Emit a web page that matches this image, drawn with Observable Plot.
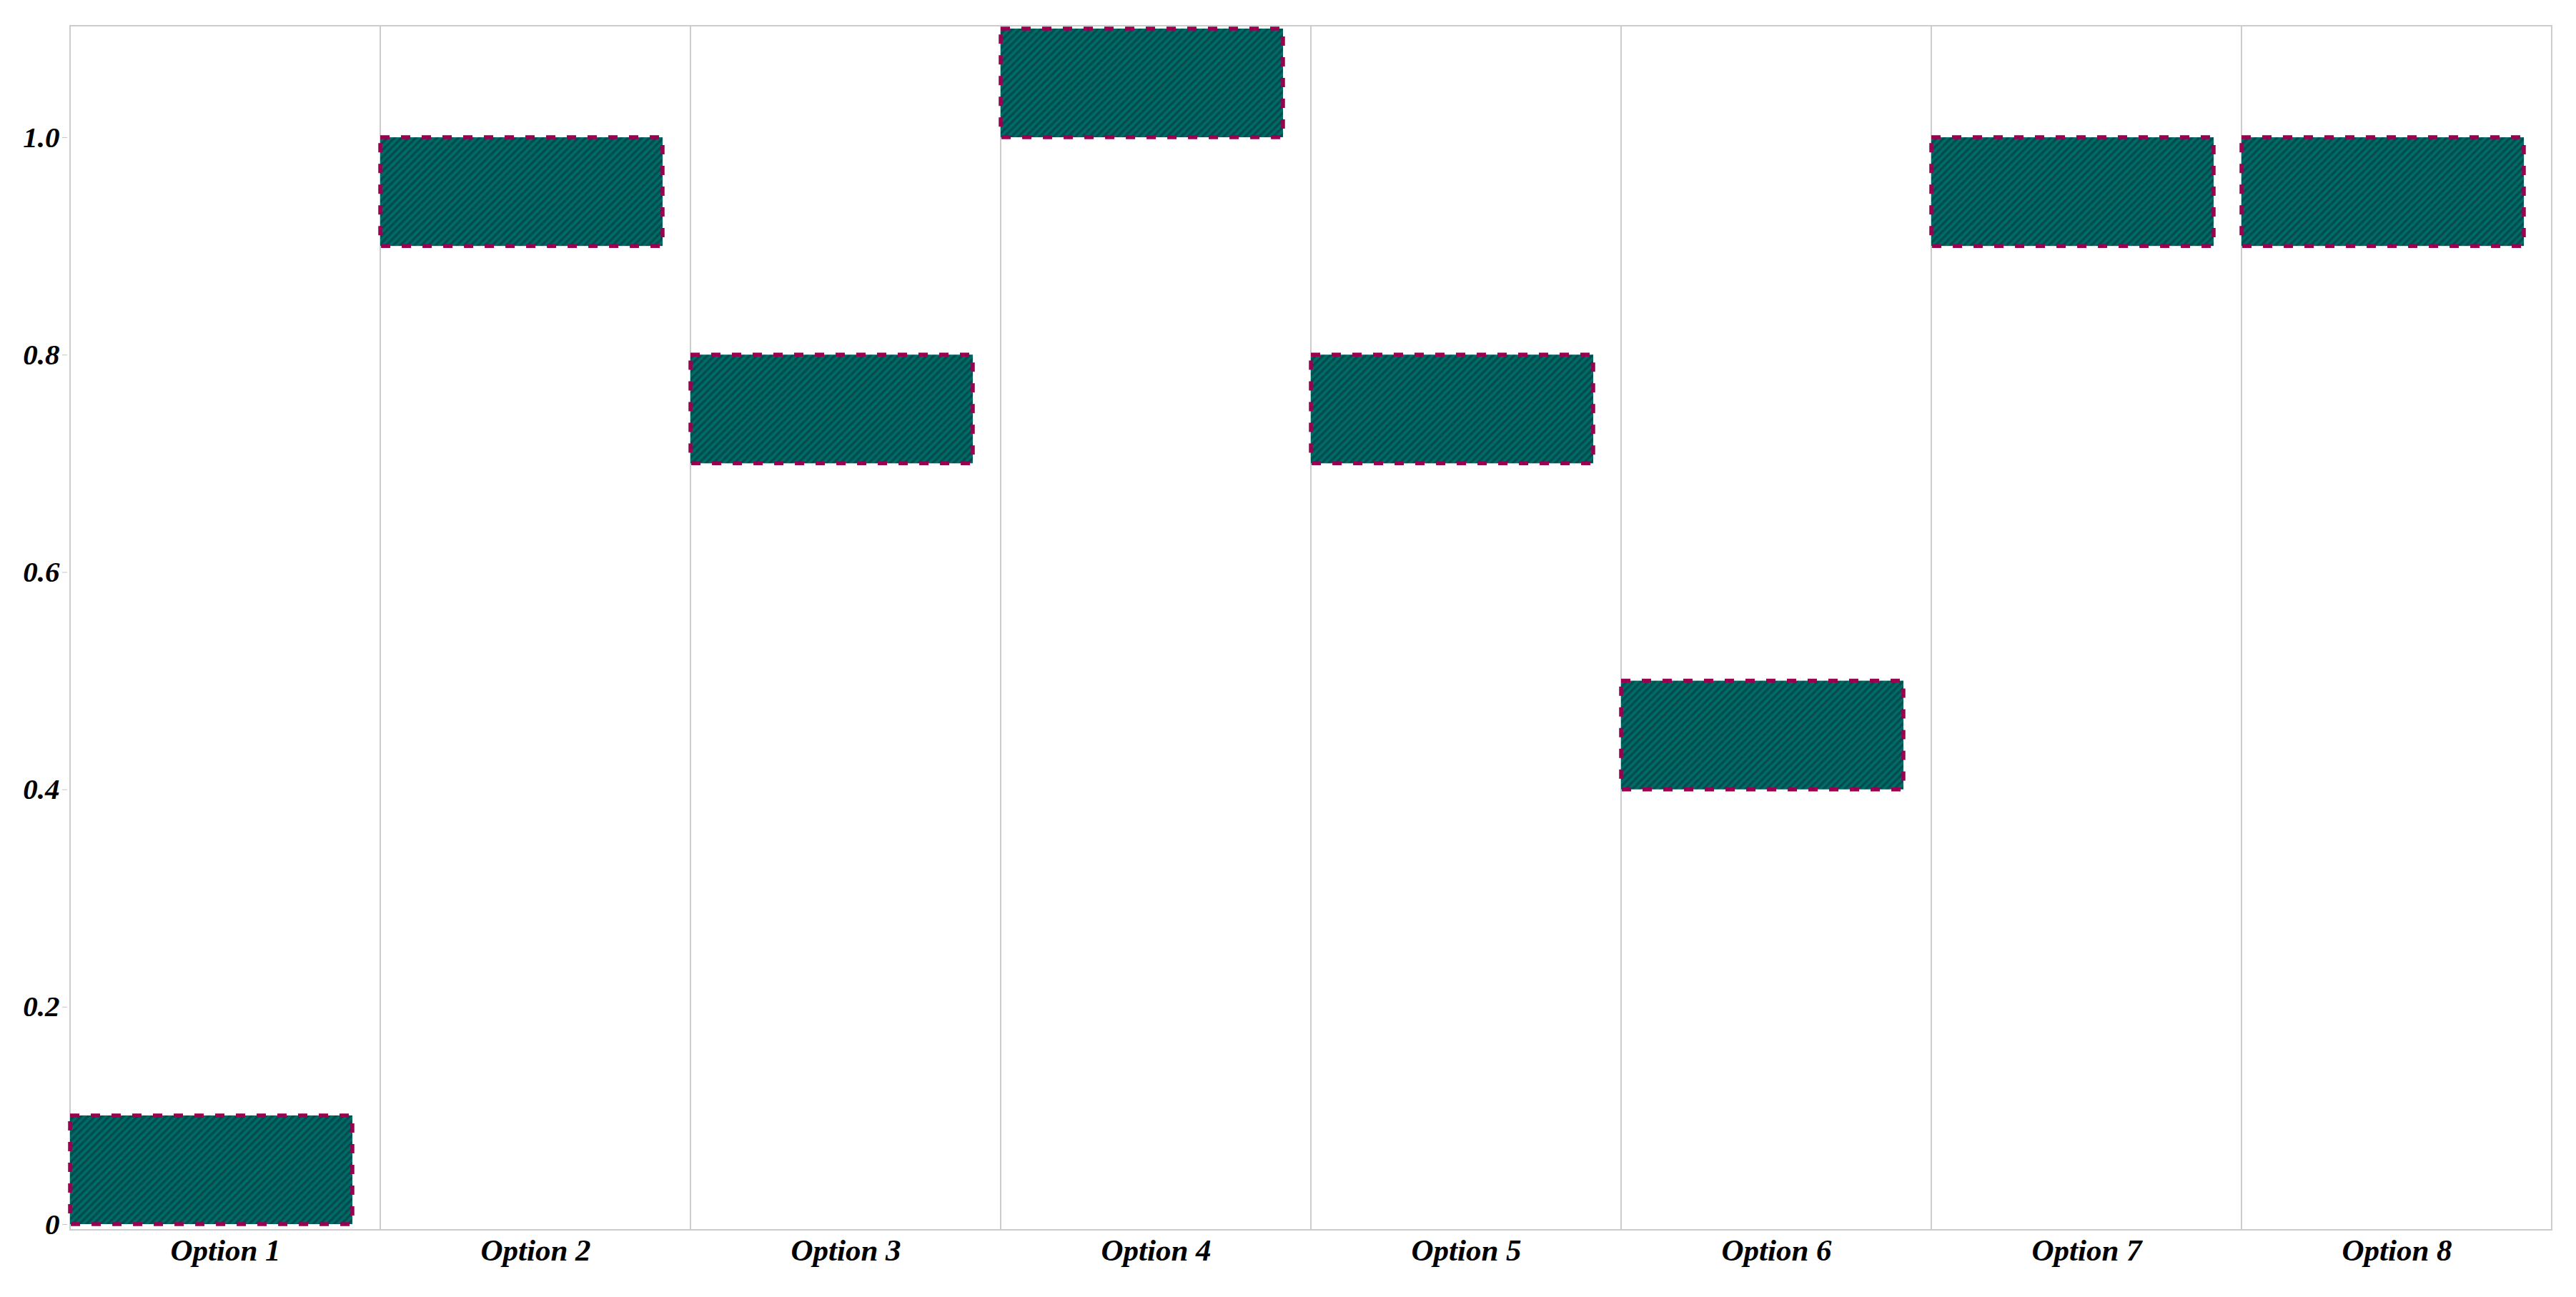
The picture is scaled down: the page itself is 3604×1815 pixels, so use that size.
<!DOCTYPE html>
<html>
<head>
<meta charset="utf-8">
<script src="https://cdn.jsdelivr.net/npm/d3@7"></script>
<script src="https://cdn.jsdelivr.net/npm/@observablehq/plot@0.6"></script>
<style>
  html, body { margin: 0; padding: 0; background: #ffffff; }
</style>
</head>
<body>
<div id="chart"></div>
<script>
const categories = ["Option 1", "Option 2", "Option 3", "Option 4", "Option 5", "Option 6", "Option 7", "Option 8"];
const lows  = [0.0, 0.9, 0.7, 1.0, 0.7, 0.4, 0.9, 0.9];
const highs = [0.1, 1.0, 0.8, 1.1, 0.8, 0.5, 1.0, 1.0];
const yTicks = [0, 0.2, 0.4, 0.6, 0.8, 1.0];
const yTickLabels = ["0", "0.2", "0.4", "0.6", "0.8", "1.0"];

const data = categories.map((c, i) => ({cat: c, low: lows[i], high: highs[i]}));

const svg = Plot.plot({
  width: 3604,
  height: 1815,
  marginLeft: 94,
  marginRight: 31,
  marginTop: 36,
  marginBottom: 94,
  style: {
    fontFamily: "'Liberation Serif', 'Times New Roman', serif",
    fontWeight: "bold",
    fontStyle: "italic",
    fontSize: "41px",
    background: "#ffffff",
    color: "#000000"
  },
  x: {domain: categories, padding: 0},
  y: {domain: [0, 1.1], insetTop: 4, insetBottom: 8},
  marks: [
    Plot.cell(categories, {x: d => d, fill: "none", stroke: "#cccccc", strokeWidth: 2}),
    Plot.barY(data, {
      x: "cat", y1: "low", y2: "high",
      fill: "url(#stripes)",
      stroke: "#99004f",
      strokeWidth: 5.5,
      strokeDasharray: "13,16",
      insetRight: 39
    }),
    Plot.axisY({
      ticks: yTicks,
      tickFormat: d => yTickLabels[yTicks.indexOf(d)],
      tickSize: 7,
      tickPadding: 4,
      stroke: "#c4c4c4",
      fill: "#000000",
      fontSize: 41,
      label: null
    }),
    Plot.axisX({
      tickSize: 0,
      tickPadding: 12,
      fill: "#000000",
      fontSize: 43,
      label: null
    })
  ]
});

const defs = d3.select(svg).insert("defs", ":first-child");
const pat = defs.append("pattern")
  .attr("id", "stripes")
  .attr("patternUnits", "userSpaceOnUse")
  .attr("width", 7)
  .attr("height", 7)
  .attr("patternTransform", "rotate(45)");
pat.append("rect").attr("width", 7).attr("height", 7).attr("fill", "#006c69");
pat.append("rect").attr("width", 3.5).attr("height", 7).attr("fill", "#004d4c");

document.getElementById("chart").appendChild(svg);
</script>
</body>
</html>
